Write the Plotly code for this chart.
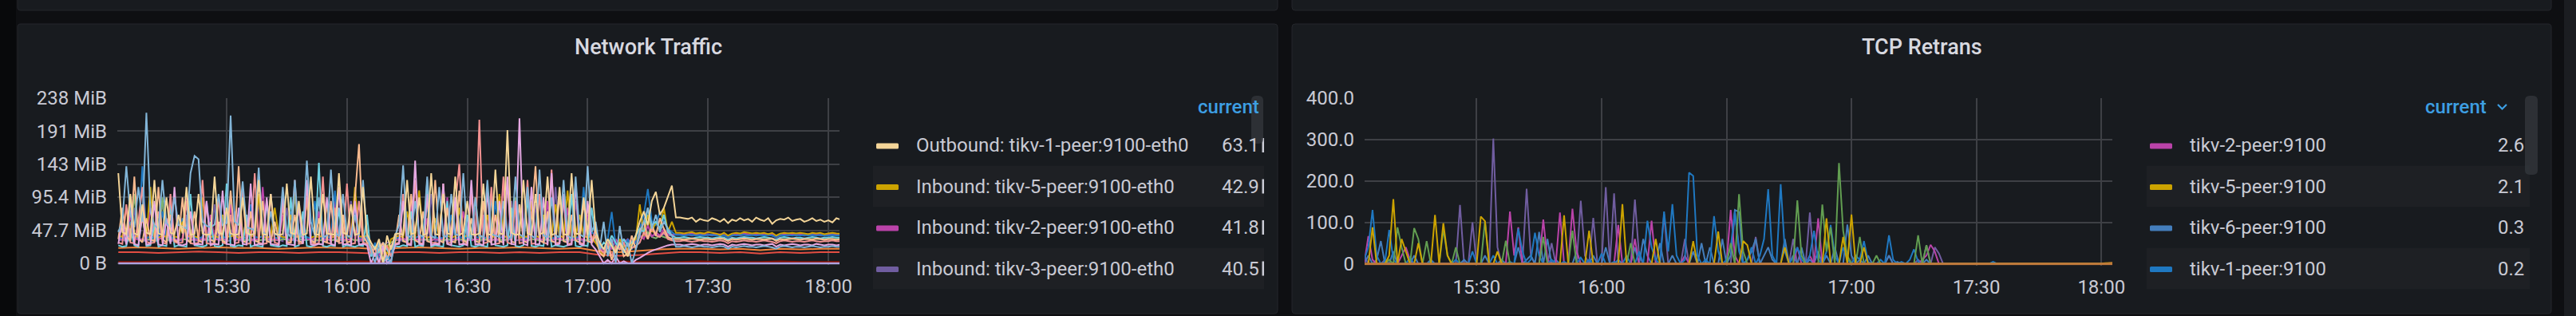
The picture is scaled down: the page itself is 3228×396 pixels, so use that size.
import pandas as pd
import plotly.graph_objects as go

W, H = 3228, 396
DAY = "2024-05-20 "

# ---------------- time axes ----------------
TIME = pd.date_range(DAY + "15:03", periods=181, freq="1min")     # 1-min samples
TIME_5M = pd.date_range(DAY + "15:03", periods=37, freq="5min")   # 5-min samples
X_TICK_LABELS = ["15:30", "16:00", "16:30", "17:00", "17:30", "18:00"]

# ---------------- Network Traffic (MiB/s) ----------------
NET_TICK_VALS = [0, 47.68, 95.37, 143.05, 190.73, 238.42]
NET_TICK_TEXT = ["0 B", "47.7 MiB", "95.4 MiB", "143 MiB", "191 MiB", "238 MiB"]

OUT_TIKV1 = [
    130, 45, 42, 100, 43, 41, 85, 44, 42, 120,
    43, 41, 95, 44, 42, 70, 43, 110, 41, 42,
    100, 43, 41, 42, 125, 44, 42, 80, 43, 41,
    42, 95, 44, 41, 43, 120, 42, 41, 100, 43,
    41, 42, 115, 44, 42, 90, 41, 43, 125, 42,
    41, 100, 43, 42, 41, 130, 44, 42, 85, 41,
    43, 110, 42, 30, 20, 35, 0, 40, 20, 42,
    43, 41, 120, 42, 44, 95, 41, 43, 130, 42,
    41, 100, 43, 42, 125, 41, 44, 90, 42, 41,
    43, 115, 42, 41, 135, 43, 42, 192, 44, 41,
    42, 120, 43, 41, 100, 42, 44, 125, 41, 43,
    110, 42, 41, 130, 43, 42, 95, 41, 120, 45,
    30, 20, 35, 25, 15, 30, 20, 10, 25, 40,
    60, 75, 55, 90, 103, 70, 80, 95, 112, 66,
    66, 65, 64, 66, 60, 64, 62, 61, 65, 63,
    60, 64, 58, 63, 61, 65, 62, 64, 60, 66,
    63, 61, 65, 57, 62, 64, 63, 66, 61, 63,
    64, 60, 62, 65, 61, 63, 60, 62, 59, 65,
    63.1]
IN_TIKV5 = [
    40, 38, 80, 39, 37, 40, 65, 38, 110, 39,
    37, 40, 38, 75, 39, 37, 60, 40, 38, 39,
    37, 95, 39, 38, 40, 37, 70, 38, 39, 40,
    37, 38, 65, 39, 40, 100, 38, 37, 39, 80,
    40, 38, 37, 70, 39, 38, 40, 90, 37, 39,
    38, 40, 85, 37, 39, 38, 65, 40, 37, 110,
    39, 38, 40, 20, 10, 30, 0, 15, 35, 38,
    40, 37, 75, 39, 38, 105, 40, 37, 39, 65,
    38, 110, 40, 37, 39, 80, 38, 40, 37, 95,
    39, 38, 70, 40, 37, 100, 39, 38, 40, 80,
    37, 39, 38, 90, 40, 37, 70, 39, 38, 85,
    40, 37, 105, 39, 38, 70, 40, 37, 39, 30,
    20, 10, 25, 30, 15, 35, 25, 20, 30, 35,
    85, 40, 70, 45, 60, 50, 80, 45, 60, 44,
    44, 43, 44, 45, 43, 44, 43, 45, 44, 43,
    41, 44, 40, 43, 44, 43, 45, 44, 43, 44,
    43, 44, 42, 44, 40, 43, 44, 43, 44, 43,
    44, 43, 42, 44, 43, 44, 42, 43, 44, 43,
    42.9]
IN_TIKV2 = [
    36, 34, 35, 70, 36, 34, 35, 33, 80, 34,
    35, 36, 60, 34, 35, 33, 36, 95, 34, 35,
    33, 36, 34, 70, 35, 34, 36, 33, 85, 35,
    34, 36, 65, 33, 35, 34, 110, 36, 34, 35,
    33, 70, 35, 34, 36, 80, 33, 35, 34, 36,
    75, 34, 35, 33, 90, 36, 34, 35, 33, 70,
    35, 34, 36, 20, 25, 10, 30, 20, 25, 35,
    34, 36, 33, 85, 35, 34, 36, 65, 33, 35,
    34, 36, 95, 33, 35, 34, 75, 36, 33, 35,
    34, 70, 36, 33, 35, 34, 115, 33, 36, 90,
    35, 34, 33, 75, 36, 35, 34, 90, 33, 35,
    36, 34, 80, 33, 35, 36, 34, 70, 33, 30,
    25, 15, 30, 20, 35, 25, 30, 35, 28, 32,
    40, 35, 55, 38, 45, 40, 50, 42, 41, 42,
    42, 41, 42, 43, 42, 41, 42, 42, 41, 42,
    42, 41, 39, 42, 41, 42, 43, 42, 41, 42,
    42, 41, 42, 42, 38, 41, 42, 43, 42, 41,
    42, 41, 42, 42, 41, 42, 41, 42, 42, 41,
    41.8]
IN_TIKV3 = [
    33, 34, 32, 33, 80, 34, 32, 33, 34, 32,
    33, 90, 34, 32, 33, 34, 32, 70, 33, 34,
    32, 33, 34, 32, 85, 33, 34, 32, 33, 75,
    34, 32, 33, 34, 32, 90, 33, 34, 32, 33,
    34, 32, 80, 33, 34, 32, 33, 95, 34, 32,
    33, 34, 32, 85, 33, 34, 32, 33, 90, 34,
    32, 33, 34, 25, 20, 30, 25, 30, 30, 33,
    34, 32, 33, 85, 34, 32, 33, 34, 100, 32,
    33, 34, 32, 33, 90, 34, 32, 33, 34, 80,
    32, 33, 34, 95, 32, 33, 34, 32, 90, 33,
    34, 32, 33, 34, 85, 32, 33, 34, 32, 110,
    33, 34, 32, 33, 90, 34, 32, 33, 34, 30,
    25, 20, 30, 35, 28, 30, 35, 30, 33, 35,
    38, 40, 42, 40, 41, 40, 42, 40, 40, 41,
    41, 40, 41, 40, 41, 40, 40, 41, 40, 41,
    40, 41, 37, 40, 41, 40, 41, 40, 41, 40,
    41, 40, 41, 40, 37, 40, 41, 40, 41, 40,
    41, 40, 41, 40, 41, 40, 40, 41, 40, 41,
    40.5]
IN_TIKV6 = [
    38, 36, 37, 60, 39, 36, 140, 37, 38, 36,
    37, 75, 38, 36, 37, 39, 65, 36, 38, 37,
    36, 38, 90, 37, 39, 36, 38, 37, 70, 36,
    38, 37, 36, 85, 38, 37, 39, 36, 100, 37,
    36, 38, 37, 75, 36, 39, 37, 38, 36, 90,
    37, 36, 38, 37, 105, 36, 38, 37, 39, 80,
    36, 38, 37, 10, 30, 5, 20, 0, 15, 36,
    37, 95, 36, 38, 37, 39, 36, 85, 37, 38,
    36, 37, 39, 70, 36, 38, 37, 36, 105, 38,
    37, 36, 38, 37, 90, 36, 39, 37, 36, 75,
    38, 37, 36, 39, 37, 100, 36, 38, 37, 36,
    39, 90, 37, 36, 38, 37, 110, 36, 45, 40,
    30, 20, 35, 74, 25, 30, 15, 35, 20, 30,
    50, 70, 107, 60, 55, 75, 60, 50, 45, 41,
    41, 40, 41, 41, 40, 41, 40, 41, 41, 40,
    41, 40, 38, 41, 40, 41, 41, 40, 41, 40,
    41, 40, 41, 40, 38, 41, 40, 41, 40, 41,
    40, 41, 40, 41, 40, 41, 40, 40, 41, 40,
    40.2]
IN_TIKV4 = [
    26, 24, 25, 50, 26, 24, 75, 25, 26, 55,
    24, 26, 25, 85, 24, 26, 25, 24, 100, 26,
    25, 24, 26, 60, 25, 24, 26, 115, 25, 24,
    26, 25, 70, 24, 26, 25, 24, 90, 26, 25,
    24, 26, 25, 95, 24, 26, 75, 25, 24, 26,
    145, 25, 24, 26, 25, 80, 24, 26, 25, 24,
    26, 25, 70, 10, 25, 15, 30, 20, 10, 25,
    24, 26, 25, 75, 24, 26, 25, 120, 24, 26,
    25, 24, 90, 26, 25, 24, 26, 70, 25, 24,
    26, 25, 24, 100, 26, 25, 24, 26, 80, 25,
    24, 26, 95, 25, 24, 26, 25, 75, 24, 26,
    25, 24, 26, 100, 25, 24, 26, 25, 80, 35,
    20, 30, 25, 40, 30, 20, 35, 25, 30, 40,
    50, 45, 80, 55, 60, 50, 70, 45, 40, 37,
    37, 38, 37, 36, 37, 38, 37, 37, 36, 37,
    38, 37, 34, 37, 36, 37, 38, 37, 37, 36,
    37, 38, 37, 36, 34, 37, 38, 37, 36, 37,
    37, 36, 37, 38, 37, 36, 37, 37, 38, 37,
    37]
OUT_TIKV2 = [
    30, 28, 85, 30, 29, 60, 110, 31, 29, 30,
    75, 30, 28, 100, 31, 29, 30, 90, 29, 28,
    30, 120, 29, 28, 30, 95, 30, 28, 70, 29,
    30, 105, 28, 29, 130, 30, 28, 29, 100, 30,
    28, 85, 29, 30, 120, 28, 29, 95, 30, 28,
    29, 125, 30, 28, 80, 29, 30, 115, 28, 29,
    90, 30, 28, 15, 22, 0, 18, 25, 10, 28,
    30, 100, 29, 28, 120, 30, 28, 95, 29, 30,
    28, 115, 29, 30, 85, 143, 28, 29, 100, 30,
    207, 29, 30, 110, 28, 29, 125, 30, 28, 90,
    29, 30, 120, 28, 29, 100, 30, 28, 135, 29,
    30, 95, 28, 29, 115, 30, 28, 85, 29, 50,
    20, 15, 30, 10, 25, 20, 30, 15, 22, 25,
    30, 45, 35, 50, 40, 38, 45, 35, 33, 32,
    32, 33, 32, 31, 32, 33, 32, 32, 31, 32,
    33, 32, 29, 32, 31, 32, 33, 32, 32, 31,
    32, 33, 32, 31, 29, 32, 33, 32, 31, 32,
    32, 31, 32, 33, 32, 31, 32, 32, 33, 32,
    32]
OUT_TIKV5 = [
    35, 80, 40, 32, 125, 36, 30, 65, 34, 32,
    110, 35, 30, 70, 33, 31, 95, 34, 30, 75,
    33, 30, 85, 34, 31, 60, 32, 30, 105, 35,
    140, 32, 30, 75, 33, 30, 90, 32, 30, 60,
    33, 100, 31, 30, 70, 32, 30, 115, 33, 30,
    65, 32, 30, 90, 33, 31, 70, 30, 32, 95,
    172, 40, 30, 25, 10, 20, 30, 5, 25, 30,
    70, 32, 30, 100, 33, 30, 75, 32, 30, 120,
    33, 30, 80, 32, 30, 105, 33, 30, 65, 32,
    30, 90, 33, 30, 70, 32, 30, 118, 31, 30,
    85, 32, 30, 65, 140, 33, 30, 75, 32, 30,
    100, 32, 30, 70, 33, 30, 90, 32, 30, 40,
    15, 10, 25, 5, 20, 30, 10, 15, 40, 20,
    45, 60, 35, 55, 40, 65, 50, 38, 35, 35,
    35, 34, 35, 36, 35, 34, 35, 35, 34, 35,
    36, 35, 32, 35, 34, 35, 36, 35, 34, 35,
    35, 34, 35, 36, 32, 35, 34, 35, 36, 35,
    34, 35, 35, 34, 36, 35, 34, 35, 35, 34,
    35]
OUT_TIKV3 = [
    28, 60, 27, 95, 28, 26, 70, 27, 28, 90,
    27, 26, 65, 28, 110, 27, 26, 28, 75, 27,
    28, 27, 90, 26, 28, 27, 105, 28, 27, 26,
    80, 28, 27, 115, 26, 28, 27, 95, 28, 27,
    26, 100, 28, 27, 26, 85, 28, 120, 27, 26,
    28, 27, 95, 28, 26, 110, 27, 28, 26, 90,
    27, 28, 26, 0, 15, 0, 25, 0, 5, 27,
    28, 90, 27, 26, 148, 28, 27, 100, 26, 28,
    27, 115, 28, 26, 95, 27, 28, 26, 120, 27,
    28, 26, 105, 27, 28, 90, 26, 125, 28, 27,
    209, 28, 26, 110, 27, 28, 95, 26, 130, 27,
    28, 100, 26, 27, 115, 28, 26, 90, 27, 20,
    10, 0, 5, 0, 10, 0, 3, 0, 0, 5,
    8, 12, 15, 18, 20, 22, 24, 26, 27, 27,
    27, 26, 27, 28, 27, 26, 27, 27, 26, 27,
    28, 27, 24, 27, 26, 27, 28, 27, 26, 27,
    27, 26, 27, 28, 24, 27, 26, 27, 28, 27,
    26, 27, 27, 26, 28, 27, 26, 27, 27, 26,
    27]
OUT_TIKV6 = [
    45, 60, 140, 70, 52, 110, 60, 217, 75, 55,
    50, 120, 58, 52, 95, 55, 53, 50, 130, 155,
    150, 60, 54, 52, 56, 100, 55, 58, 213, 60,
    55, 118, 52, 50, 48, 138, 45, 40, 75, 42,
    40, 110, 44, 38, 120, 42, 40, 148, 60, 40,
    95, 38, 40, 135, 45, 39, 100, 40, 38, 70,
    40, 120, 38, 20, 0, 30, 0, 10, 0, 40,
    55, 141, 40, 38, 90, 42, 38, 125, 40, 36,
    110, 40, 38, 100, 42, 40, 130, 38, 36, 95,
    40, 38, 120, 42, 40, 38, 90, 40, 36, 125,
    42, 38, 110, 40, 36, 135, 40, 38, 95, 40,
    38, 120, 40, 36, 125, 42, 38, 140, 45, 60,
    20, 60, 10, 35, 0, 54, 15, 30, 0, 20,
    40, 60, 80, 50, 70, 45, 60, 50, 40, 24,
    24, 25, 24, 23, 24, 25, 24, 24, 23, 24,
    25, 24, 21, 24, 23, 24, 25, 24, 24, 23,
    24, 25, 24, 23, 21, 24, 25, 24, 23, 24,
    24, 23, 24, 25, 24, 23, 24, 24, 25, 24,
    24]
OUT_TIKV4 = [
    34, 35, 33, 34, 100, 35, 33, 34, 35, 33,
    34, 95, 33, 35, 34, 33, 35, 34, 33, 35,
    33, 34, 35, 33, 34, 35, 33, 34, 90, 33,
    35, 34, 33, 35, 34, 33, 34, 35, 33, 34,
    33, 35, 34, 33, 100, 35, 34, 33, 35, 34,
    33, 34, 35, 33, 34, 35, 33, 34, 35, 33,
    34, 35, 33, 20, 25, 15, 20, 25, 30, 33,
    35, 34, 33, 35, 34, 33, 35, 34, 33, 35,
    34, 33, 35, 34, 33, 35, 34, 33, 35, 34,
    33, 35, 34, 33, 35, 34, 33, 35, 34, 95,
    35, 34, 33, 35, 34, 33, 35, 34, 33, 35,
    34, 33, 35, 34, 33, 35, 34, 33, 35, 30,
    25, 20, 30, 25, 20, 30, 25, 20, 30, 35,
    38, 40, 45, 38, 36, 40, 38, 36, 36, 35,
    35, 35, 35, 35, 35, 35, 35, 35, 35, 35,
    35, 35, 33, 35, 35, 35, 35, 35, 35, 35,
    35, 35, 35, 35, 33, 35, 35, 35, 35, 35,
    35, 35, 35, 35, 35, 35, 35, 35, 35, 35,
    35]
# 5-minute series (steady bands)
IN_TIKV7 = [22, 23, 22, 21, 22, 23, 22, 22, 21, 22, 23, 22, 22, 20, 22, 23, 22, 21, 22, 22,
            23, 22, 21, 22, 17, 16, 18, 20, 21, 21, 20, 21, 19, 21, 20, 21, 21]
OUT_TIKV7 = [16, 16, 15, 16, 17, 16, 15, 16, 16, 15, 16, 16, 15, 14, 16, 16, 15, 16, 16, 15,
             16, 15, 16, 16, 12, 11, 12, 14, 16, 16, 15, 16, 14, 16, 15, 16, 16]
IN_TIKV8 = [2, 2, 3, 2, 2, 3, 2, 2, 2, 3, 2, 2, 3, 2, 2, 2, 3, 2, 2, 2,
            3, 2, 2, 2, 2, 3, 2, 2, 2, 3, 2, 2, 2, 3, 2, 2, 2]
OUT_TIKV8 = [0, 0, 0, 0, 0, 0, 0, 0, 0, 0, 0, 0, 0, 0, 0, 0, 0, 0, 0, 0,
             0, 0, 0, 0, 0, 0, 0, 0, 0, 0, 0, 0, 0, 0, 0, 0, 0]

NET_LEGEND_NAMES = ["Outbound: tikv-1-peer:9100-eth0", "Inbound: tikv-5-peer:9100-eth0",
                    "Inbound: tikv-2-peer:9100-eth0", "Inbound: tikv-3-peer:9100-eth0"]
NET_LEGEND_CURRENT = ["63.1", "42.9", "41.8", "40.5"]

# ---------------- TCP Retrans ----------------
TCP_TICK_VALS = [0, 100, 200, 300, 400]
TCP_TICK_TEXT = ["0", "100.0", "200.0", "300.0", "400.0"]

TCP_TIKV1 = [
    10, 40, 130, 20, 0, 5, 82, 10, 0, 0,
    0, 15, 0, 0, 0, 0, 5, 0, 0, 0,
    0, 0, 10, 0, 0, 0, 30, 0, 0, 0,
    0, 20, 0, 0, 0, 5, 0, 85, 30, 0,
    10, 75, 20, 0, 0, 10, 0, 0, 5, 0,
    0, 0, 15, 0, 10, 0, 0, 25, 0, 0,
    5, 0, 0, 20, 0, 0, 30, 0, 104, 40,
    10, 0, 126, 30, 144, 20, 0, 10, 220, 212,
    20, 0, 10, 0, 115, 30, 0, 10, 40, 126,
    30, 0, 10, 40, 0, 20, 60, 180, 20, 0,
    192, 30, 0, 15, 40, 10, 0, 20, 80, 10,
    0, 30, 94, 20, 0, 40, 10, 0, 20, 10,
    55, 5, 0, 0, 10, 0, 69, 10, 0, 5,
    0, 10, 35, 5, 0, 0, 0, 0, 0, 0,
    0, 0, 0, 0, 0, 0, 0, 0, 0, 0,
    0, 5, 0, 0, 0, 0, 0, 0, 0, 0,
    0, 0, 0, 0, 0, 0, 0, 0, 0, 0,
    0, 0, 0, 0, 0, 0, 0, 0, 0, 0,
    0.2]
TCP_TIKV6 = [
    0, 20, 0, 10, 55, 0, 0, 30, 0, 0,
    0, 0, 20, 0, 0, 0, 10, 0, 0, 0,
    0, 0, 0, 0, 10, 0, 0, 0, 0, 20,
    0, 0, 0, 10, 0, 0, 0, 40, 0, 10,
    20, 0, 77, 0, 60, 0, 10, 0, 0, 0,
    0, 30, 0, 0, 0, 20, 0, 0, 40, 0,
    0, 10, 0, 0, 0, 40, 0, 60, 20, 0,
    0, 50, 0, 0, 20, 0, 0, 0, 0, 30,
    0, 50, 0, 40, 0, 0, 60, 0, 20, 130,
    125, 0, 10, 30, 60, 0, 20, 40, 10, 0,
    0, 60, 0, 20, 0, 40, 0, 10, 0, 30,
    0, 20, 0, 40, 0, 0, 95, 20, 0, 10,
    0, 20, 0, 0, 0, 0, 20, 0, 5, 0,
    0, 0, 0, 0, 0, 10, 0, 0, 0, 0,
    0, 0, 0, 0, 0, 0, 0, 0, 0, 0,
    0, 0, 0, 0, 0, 0, 0, 0, 0, 0,
    0, 0, 0, 0, 0, 0, 0, 0, 0, 0,
    0, 0, 0, 0, 0, 0, 0, 0, 0, 0,
    0.3]
TCP_TIKV2 = [
    0, 67, 10, 0, 0, 0, 0, 0, 0, 20,
    40, 10, 0, 0, 0, 0, 0, 0, 0, 0,
    0, 0, 0, 0, 0, 0, 0, 0, 0, 0,
    0, 0, 0, 0, 0, 126, 20, 88, 0, 0,
    0, 0, 0, 107, 10, 0, 0, 124, 0, 0,
    133, 30, 0, 0, 0, 0, 0, 0, 0, 0,
    0, 94, 0, 0, 0, 60, 0, 0, 0, 104,
    0, 0, 0, 0, 0, 0, 0, 20, 0, 0,
    0, 0, 0, 0, 0, 0, 0, 0, 130, 20,
    0, 0, 0, 0, 0, 0, 0, 0, 0, 0,
    0, 0, 0, 0, 40, 0, 0, 20, 0, 110,
    0, 0, 0, 0, 0, 0, 0, 0, 0, 0,
    0, 0, 0, 0, 0, 0, 0, 0, 0, 0,
    0, 0, 0, 0, 10, 20, 46, 30, 0, 0,
    0, 0, 0, 0, 0, 0, 0, 0, 0, 0,
    0, 0, 0, 0, 0, 0, 0, 0, 0, 0,
    0, 0, 0, 0, 0, 0, 0, 0, 0, 0,
    0, 0, 0, 0, 0, 0, 0, 0, 1, 2,
    2.6]
TCP_TIKV3 = [
    20, 0, 0, 0, 0, 10, 0, 0, 0, 0,
    0, 0, 0, 0, 0, 0, 0, 0, 0, 0,
    0, 0, 0, 142, 0, 0, 100, 0, 0, 0,
    0, 302, 40, 0, 0, 0, 0, 0, 0, 181,
    20, 0, 0, 0, 0, 50, 0, 0, 0, 0,
    0, 0, 152, 20, 0, 111, 0, 0, 185, 0,
    170, 0, 0, 0, 0, 155, 20, 0, 0, 0,
    0, 0, 120, 0, 0, 0, 0, 60, 0, 0,
    0, 0, 0, 0, 0, 0, 0, 0, 0, 125,
    40, 0, 0, 0, 65, 0, 0, 0, 0, 0,
    0, 0, 0, 60, 0, 0, 0, 124, 0, 0,
    0, 0, 0, 0, 0, 0, 0, 0, 0, 0,
    0, 0, 0, 0, 0, 0, 20, 0, 0, 0,
    0, 0, 0, 10, 0, 45, 0, 40, 25, 0,
    0, 0, 0, 0, 0, 0, 0, 0, 0, 0,
    0, 0, 0, 0, 0, 0, 0, 0, 0, 0,
    0, 0, 0, 0, 0, 0, 0, 0, 0, 0,
    0, 0, 0, 0, 0, 0, 0, 0, 0, 0,
    0]
TCP_TIKV4 = [
    0, 0, 0, 0, 0, 0, 10, 0, 88, 40,
    0, 0, 86, 60, 0, 55, 0, 0, 0, 84,
    20, 0, 40, 0, 0, 0, 0, 0, 0, 103,
    0, 0, 0, 0, 56, 0, 0, 0, 0, 0,
    0, 0, 0, 65, 0, 0, 0, 0, 0, 0,
    80, 0, 0, 0, 0, 0, 0, 0, 0, 0,
    0, 0, 0, 0, 50, 0, 0, 0, 0, 0,
    0, 0, 0, 0, 0, 0, 0, 0, 0, 0,
    0, 0, 0, 0, 0, 0, 0, 0, 50, 0,
    168, 30, 0, 0, 0, 0, 0, 0, 0, 0,
    0, 0, 0, 0, 153, 20, 0, 0, 0, 0,
    143, 30, 88, 0, 243, 80, 20, 0, 0, 65,
    0, 0, 0, 20, 0, 0, 0, 0, 0, 0,
    0, 0, 0, 69, 0, 45, 0, 0, 0, 0,
    0, 0, 0, 0, 0, 0, 0, 0, 0, 0,
    0, 0, 0, 0, 0, 0, 0, 0, 0, 0,
    0, 0, 0, 0, 0, 0, 0, 0, 0, 0,
    0, 0, 0, 0, 0, 0, 0, 0, 0, 0,
    0]
TCP_TIKV5 = [
    0, 0, 88, 0, 0, 0, 20, 156, 0, 60,
    30, 0, 0, 50, 0, 0, 0, 118, 0, 98,
    20, 0, 0, 0, 0, 0, 0, 0, 114, 103,
    0, 0, 30, 0, 0, 0, 0, 0, 0, 0,
    0, 0, 0, 0, 0, 0, 0, 0, 117, 0,
    0, 0, 0, 0, 80, 0, 0, 0, 0, 0,
    0, 0, 144, 0, 0, 0, 0, 0, 0, 0,
    60, 0, 0, 0, 0, 0, 0, 0, 0, 55,
    0, 0, 0, 0, 0, 78, 0, 0, 0, 0,
    0, 55, 45, 0, 0, 0, 0, 0, 0, 0,
    0, 40, 0, 0, 0, 0, 0, 0, 0, 0,
    0, 110, 0, 0, 0, 65, 0, 119, 0, 0,
    40, 0, 0, 0, 0, 0, 0, 0, 0, 0,
    0, 0, 0, 0, 0, 0, 0, 0, 0, 0,
    0, 0, 0, 0, 0, 0, 0, 0, 0, 0,
    0, 0, 0, 0, 0, 0, 0, 0, 0, 0,
    0, 0, 0, 0, 0, 0, 0, 0, 0, 0,
    0, 0, 0, 1, 0, 1, 0, 1, 2, 2,
    2.1]
TCP_TIKV7 = [0, 0, 0, 0, 0, 0, 0, 0, 0, 0, 0, 0, 0, 0, 0, 0, 0, 0, 0, 0,
             0, 0, 0, 0, 0, 0, 0, 0, 0, 0, 0, 0, 0, 0, 0, 0, 0]

TCP_LEGEND_NAMES = ["tikv-2-peer:9100", "tikv-5-peer:9100", "tikv-6-peer:9100", "tikv-1-peer:9100"]
TCP_LEGEND_CURRENT = ["2.6", "2.1", "0.3", "0.2"]

# ---------------- styling ----------------
FONT = "Roboto, 'Open Sans', sans-serif"
TXT = "#c9cad4"
GRID = "#3e4045"
PANEL = "#181b1f"
PANEL_BORDER = "#25272c"
PAGE = "#0e0f12"
BLUE_TXT = "#3d9fe3"

C = dict(ly="#F4D598", gold="#CCA300", mag="#BA43A9", vio="#705DA0", blue="#1F78C1",
         cyan="#6ED0E0", salmon="#F29191", peach="#F9BA8F", lavp="#E5A8E2", lb="#82B5D8",
         green="#7EB26D", orange="#EF843C", red="#E24D42", dred="#890F02", lav="#AEA2E0",
         steel="#447EBC", tgreen="#629E51", brown="#BE783C")

fig = go.Figure()


def add(ax, name, color, vals, times, width=2.0):
    fig.add_trace(go.Scatter(
        x=list(times[:len(vals)]), y=vals, mode="lines", name=name,
        line=dict(color=color, width=width),
        xaxis="x" if ax == 1 else "x2", yaxis="y" if ax == 1 else "y2",
        showlegend=False, hoverinfo="skip"))


# network traffic (drawing order: first = bottom)
add(1, "Inbound: tikv-8-peer:9100-eth0", C["dred"], IN_TIKV8, TIME_5M)
add(1, "Outbound: tikv-7-peer:9100-eth0", C["red"], OUT_TIKV7, TIME_5M)
add(1, "Inbound: tikv-7-peer:9100-eth0", C["orange"], IN_TIKV7, TIME_5M)
add(1, "Inbound: tikv-3-peer:9100-eth0", C["vio"], IN_TIKV3, TIME)
add(1, "Outbound: tikv-4-peer:9100-eth0", C["green"], OUT_TIKV4, TIME)
add(1, "Inbound: tikv-2-peer:9100-eth0", C["mag"], IN_TIKV2, TIME)
add(1, "Inbound: tikv-6-peer:9100-eth0", C["blue"], IN_TIKV6, TIME)
add(1, "Inbound: tikv-5-peer:9100-eth0", C["gold"], IN_TIKV5, TIME)
add(1, "Inbound: tikv-4-peer:9100-eth0", C["cyan"], IN_TIKV4, TIME)
add(1, "Outbound: tikv-2-peer:9100-eth0", C["salmon"], OUT_TIKV2, TIME)
add(1, "Outbound: tikv-5-peer:9100-eth0", C["peach"], OUT_TIKV5, TIME)
add(1, "Outbound: tikv-3-peer:9100-eth0", C["lavp"], OUT_TIKV3, TIME)
add(1, "Outbound: tikv-6-peer:9100-eth0", C["lb"], OUT_TIKV6, TIME)
add(1, "Outbound: tikv-1-peer:9100-eth0", C["ly"], OUT_TIKV1, TIME)
add(1, "Outbound: tikv-8-peer:9100-eth0", C["lav"], OUT_TIKV8, TIME_5M, 2.5)

# tcp retrans
add(2, "tikv-3-peer:9100", C["vio"], TCP_TIKV3, TIME)
add(2, "tikv-6-peer:9100", C["steel"], TCP_TIKV6, TIME)
add(2, "tikv-2-peer:9100", C["mag"], TCP_TIKV2, TIME)
add(2, "tikv-1-peer:9100", C["blue"], TCP_TIKV1, TIME)
add(2, "tikv-4-peer:9100", C["tgreen"], TCP_TIKV4, TIME)
add(2, "tikv-5-peer:9100", C["gold"], TCP_TIKV5, TIME)
add(2, "tikv-7-peer:9100", C["brown"], TCP_TIKV7, TIME_5M, 3)


# ---------------- helpers in pixel space ----------------
def px(x):
    return x / W


def py(y):
    return 1 - y / H


def rrect_path(x0, y0, x1, y1, r):
    pts = [
        ("M", x0 + r, y0), ("L", x1 - r, y0), ("Q", x1, y0, x1, y0 + r),
        ("L", x1, y1 - r), ("Q", x1, y1, x1 - r, y1), ("L", x0 + r, y1),
        ("Q", x0, y1, x0, y1 - r), ("L", x0, y0 + r), ("Q", x0, y0, x0 + r, y0)]
    s = ""
    for p in pts:
        cmd = p[0]
        coords = p[1:]
        s += cmd + " " + " ".join(
            f"{px(coords[i]):.6f},{py(coords[i + 1]):.6f}" for i in range(0, len(coords), 2)) + " "
    return s + "Z"


shapes = []


def rect(x0, y0, x1, y1, fill, line=None, layer="below", r=0, lw=1):
    if r > 0:
        shapes.append(dict(type="path", xref="paper", yref="paper", path=rrect_path(x0, y0, x1, y1, r),
                           fillcolor=fill, line=dict(color=line or fill, width=lw if line else 0),
                           layer=layer))
    else:
        shapes.append(dict(type="rect", xref="paper", yref="paper", x0=px(x0), x1=px(x1),
                           y0=py(y1), y1=py(y0), fillcolor=fill,
                           line=dict(color=line or fill, width=lw if line else 0), layer=layer))


# page pieces
rect(0, 0, 20, H, "#08090b")
rect(3213, 0, W, H, "#1b1d21")
# top row panels (bottom edges visible)
rect(22, -10, 1601, 13, PANEL, PANEL_BORDER, r=4)
rect(1619, -10, 3197, 13, PANEL, PANEL_BORDER, r=4)
# main panels
rect(22, 30, 1601, 393, PANEL, PANEL_BORDER, r=4)
rect(1619, 30, 3197, 393, PANEL, PANEL_BORDER, r=4)

ROW_Y = [182, 233.5, 285, 336.5]
ROW_H = 51.6
ALT = "#1e2024"
for i in (1, 3):
    rect(1094, ROW_Y[i] - ROW_H / 2, 1584, ROW_Y[i] + ROW_H / 2, ALT)
    rect(2690, ROW_Y[i] - ROW_H / 2, 3170, ROW_Y[i] + ROW_H / 2, ALT)

NET_SWATCH = [C["ly"], C["gold"], C["mag"], C["vio"]]
TCP_SWATCH = [C["mag"], C["gold"], C["steel"], C["blue"]]
for i in range(4):
    rect(1098, ROW_Y[i] - 2.5, 1126, ROW_Y[i] + 4.5, NET_SWATCH[i], r=1.5)
    rect(2694, ROW_Y[i] - 2.5, 2722, ROW_Y[i] + 4.5, TCP_SWATCH[i], r=1.5)
    # clipped first letter of the unit on the left legend
    rect(1581.5, ROW_Y[i] - 9, 1584, ROW_Y[i] + 9, TXT, layer="above")

# scrollbars
rect(1568, 120, 1583, 180, "rgba(52,56,62,0.75)", layer="above", r=6)
rect(3164, 120, 3180, 219, "rgba(52,56,62,0.75)", layer="above", r=6)
# chevron of the sort header
shapes.append(dict(type="path", xref="paper", yref="paper",
                   path=f"M {px(3130):.6f},{py(131):.6f} L {px(3135.5):.6f},{py(136.5):.6f} L {px(3141):.6f},{py(131):.6f}",
                   line=dict(color=BLUE_TXT, width=2.2), layer="above"))

annotations = []


def text(x, y, s, size, color=TXT, xanchor="left", weight=400):
    annotations.append(dict(x=px(x), y=py(y), xref="paper", yref="paper", text=s, showarrow=False,
                            xanchor=xanchor, yanchor="middle",
                            font=dict(family=FONT, size=size, color=color, weight=weight)))


text(812, 59, "Network Traffic", 27, "#d8d9e0", "center", 500)
text(2408, 59, "TCP Retrans", 27, "#d8d9e0", "center", 500)
text(1499, 134, "current", 24, BLUE_TXT, "left", 500)
text(3118, 134, "current", 24, BLUE_TXT, "right", 500)
for i in range(4):
    text(1146, ROW_Y[i], NET_LEGEND_NAMES[i], 24)
    text(1529, ROW_Y[i], NET_LEGEND_CURRENT[i], 24)
    text(2742, ROW_Y[i], TCP_LEGEND_NAMES[i], 24)
    text(3165, ROW_Y[i], TCP_LEGEND_CURRENT[i], 24, xanchor="right")

axis_common = dict(showline=False, zeroline=False, showgrid=True, gridcolor=GRID, gridwidth=1.5,
                   ticks="", tickfont=dict(family=FONT, size=24, color=TXT), fixedrange=True,
                   automargin=False)

x_tickvals = [DAY + t for t in X_TICK_LABELS]

fig.update_layout(
    template="none",
    width=W, height=H, autosize=False,
    margin=dict(l=0, r=0, t=0, b=0, pad=0, autoexpand=False),
    paper_bgcolor=PAGE, plot_bgcolor="rgba(0,0,0,0)",
    showlegend=False, shapes=shapes, annotations=annotations,
    xaxis=dict(domain=[px(147), px(1052)], range=[DAY + "15:02:45", DAY + "18:02:47"], type="date",
               tickmode="array", tickvals=x_tickvals, ticktext=X_TICK_LABELS, anchor="y",
               ticklabelstandoff=10, **axis_common),
    yaxis=dict(domain=[py(332), py(122.7)], range=[-2.3, 238.42], tickmode="array",
               tickvals=NET_TICK_VALS, ticktext=NET_TICK_TEXT, anchor="x",
               ticklabelstandoff=12, **axis_common),
    xaxis2=dict(domain=[px(1710), px(2647)], range=[DAY + "15:03:06", DAY + "18:02:38"], type="date",
                tickmode="array", tickvals=x_tickvals, ticktext=X_TICK_LABELS, anchor="y2",
                ticklabelstandoff=10, **axis_common),
    yaxis2=dict(domain=[py(332.5), py(122.7)], range=[-3.5, 400], tickmode="array",
                tickvals=TCP_TICK_VALS, ticktext=TCP_TICK_TEXT, anchor="x2",
                ticklabelstandoff=12, **axis_common),
)

fig.write_html("out.html", config={"displayModeBar": False},
               post_script="document.body.style.margin='0';document.body.style.overflow='hidden';")
